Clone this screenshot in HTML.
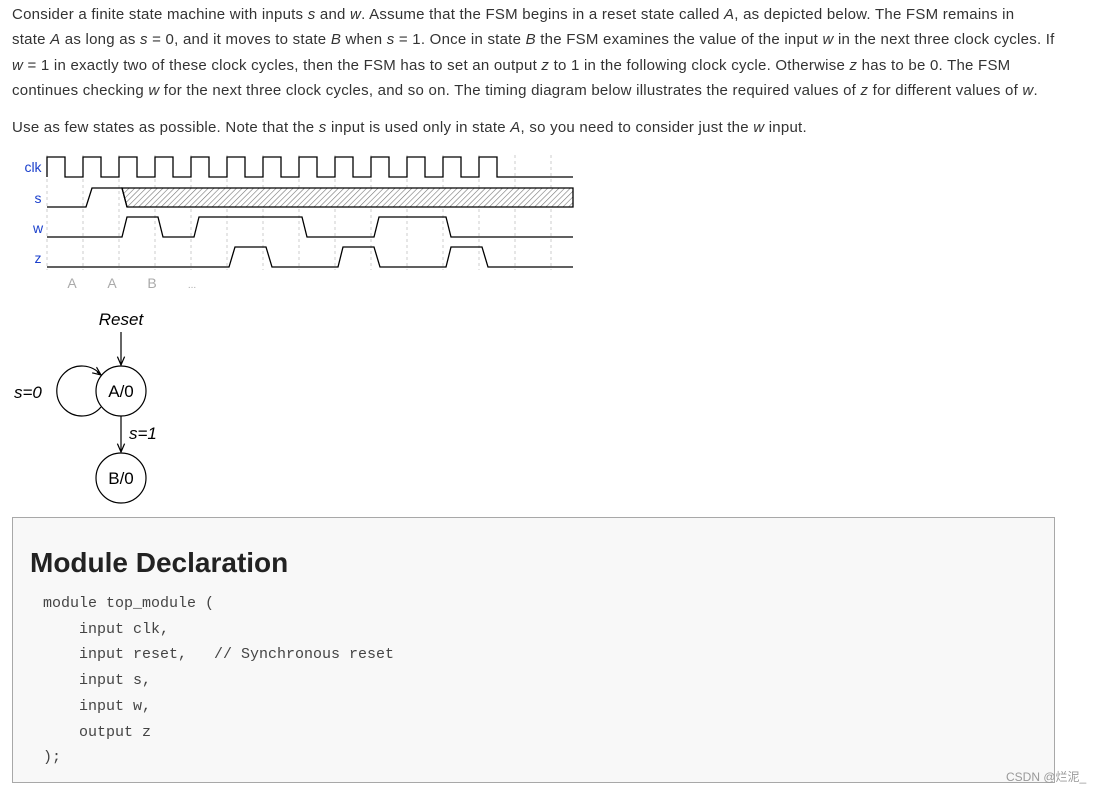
<!DOCTYPE html>
<html><head><meta charset="utf-8"><style>
body{margin:0;background:#fff;width:1103px;height:791px;position:relative;overflow:hidden;font-family:"Liberation Sans",sans-serif;color:#333}
.l{position:absolute;left:12px;font-size:15px;white-space:nowrap;line-height:20px;letter-spacing:0.24px}
.box{position:absolute;left:12px;top:517px;width:1041px;height:264px;background:#f8f8f8;border:1px solid #a8a8a8}
h2{position:absolute;left:17px;top:29px;margin:0;font-size:28px;font-weight:bold;color:#222;font-family:"Liberation Sans",sans-serif;letter-spacing:0px}
pre{position:absolute;left:30px;top:73px;margin:0;font-family:"Liberation Mono",monospace;font-size:15px;line-height:25.7px;color:#444}
.wm{position:absolute;left:1006px;top:768px;font-size:12px;color:#999;font-family:"Liberation Sans","Noto Sans CJK SC",sans-serif}
</style></head><body>
<div class="l" style="top:5px">Consider a finite state machine with inputs <i>s</i> and <i>w</i>. Assume that the FSM begins in a reset state called <i>A</i>, as depicted below. The FSM remains in</div>
<div class="l" style="top:30px">state <i>A</i> as long as <i>s</i> = 0, and it moves to state <i>B</i> when <i>s</i> = 1. Once in state <i>B</i> the FSM examines the value of the input <i>w</i> in the next three clock cycles. If</div>
<div class="l" style="top:56px"><i>w</i> = 1 in exactly two of these clock cycles, then the FSM has to set an output <i>z</i> to 1 in the following clock cycle. Otherwise <i>z</i> has to be 0. The FSM</div>
<div class="l" style="top:81px">continues checking <i>w</i> for the next three clock cycles, and so on. The timing diagram below illustrates the required values of <i>z</i> for different values of <i>w</i>.</div>
<div class="l" style="top:118px">Use as few states as possible. Note that the <i>s</i> input is used only in state <i>A</i>, so you need to consider just the <i>w</i> input.</div>
<svg width="1103" height="520" style="position:absolute;left:0;top:0" font-family="Liberation Sans, sans-serif">
<defs><pattern id="h" width="4" height="4" patternUnits="userSpaceOnUse" patternTransform="rotate(45)"><rect width="4" height="4" fill="#fff"/><line x1="0" y1="0" x2="0" y2="4" stroke="#777" stroke-width="1.2"/></pattern>
<marker id="a" markerWidth="8" markerHeight="8" refX="7" refY="4" orient="auto"><path d="M0,1 L7,4 L0,7" fill="none" stroke="#000" stroke-width="1"/></marker></defs>
<g stroke="#ccc" stroke-dasharray="3,3" stroke-width="1">
<line x1="47" y1="155" x2="47" y2="270"/><line x1="83" y1="155" x2="83" y2="270"/><line x1="119" y1="155" x2="119" y2="270"/><line x1="155" y1="155" x2="155" y2="270"/><line x1="191" y1="155" x2="191" y2="270"/><line x1="227" y1="155" x2="227" y2="270"/><line x1="263" y1="155" x2="263" y2="270"/><line x1="299" y1="155" x2="299" y2="270"/><line x1="335" y1="155" x2="335" y2="270"/><line x1="371" y1="155" x2="371" y2="270"/><line x1="407" y1="155" x2="407" y2="270"/><line x1="443" y1="155" x2="443" y2="270"/><line x1="479" y1="155" x2="479" y2="270"/><line x1="515" y1="155" x2="515" y2="270"/><line x1="551" y1="155" x2="551" y2="270"/>
</g>
<g fill="#1a3fcc" font-size="14" text-anchor="middle"><text x="33" y="172">clk</text><text x="38" y="203">s</text><text x="38" y="233">w</text><text x="38" y="263">z</text></g>
<g fill="none" stroke="#000" stroke-width="1.3">
<path d="M47,177 V157 H65 V177 H83 V157 H101 V177 H119 V157 H137 V177 H155 V157 H173 V177 H191 V157 H209 V177 H227 V157 H245 V177 H263 V157 H281 V177 H299 V157 H317 V177 H335 V157 H353 V177 H371 V157 H389 V177 H407 V157 H425 V177 H443 V157 H461 V177 H479 V157 H497 V177 H573"/>
<path d="M127,207 L122,188 H573 V207 Z" fill="url(#h)"/>
<path d="M47,207 H86 L92,188 H122 L127,207"/>
<path d="M47,237 H122 L127,217 H158 L163,237 H194 L199,217 H302 L307,237 H374 L379,217 H446 L451,237 H573"/>
<path d="M47,267 H229 L235,247 H266 L272,267 H338 L343,247 H374 L380,267 H446 L451,247 H482 L488,267 H573"/>
</g>
<g fill="#aaa" font-size="14" text-anchor="middle"><text x="72" y="288">A</text><text x="112" y="288">A</text><text x="152" y="288">B</text><text x="192" y="288" font-size="10">...</text></g>
<g font-size="17" fill="#000"><text x="121" y="325" text-anchor="middle" font-style="italic">Reset</text>
<text x="14" y="398" font-style="italic">s=0</text><text x="129" y="439" font-style="italic">s=1</text>
<text x="121" y="397" text-anchor="middle">A/0</text><text x="121" y="484" text-anchor="middle">B/0</text></g>
<g fill="none" stroke="#000" stroke-width="1.2">
<path d="M101,375 A25,25 0 1 0 101,407"/>
<circle cx="121" cy="391" r="25"/><circle cx="121" cy="478" r="25"/>
<line x1="121" y1="332" x2="121" y2="365" marker-end="url(#a)"/>
<line x1="121" y1="416" x2="121" y2="452" marker-end="url(#a)"/>
<line x1="97" y1="372" x2="101" y2="375" marker-end="url(#a)"/>
</g>
</svg>
<div class="box"><h2>Module Declaration</h2>
<pre>module top_module (
    input clk,
    input reset,   // Synchronous reset
    input s,
    input w,
    output z
);</pre></div>
<div class="wm">CSDN @烂泥_</div>
</body></html>
